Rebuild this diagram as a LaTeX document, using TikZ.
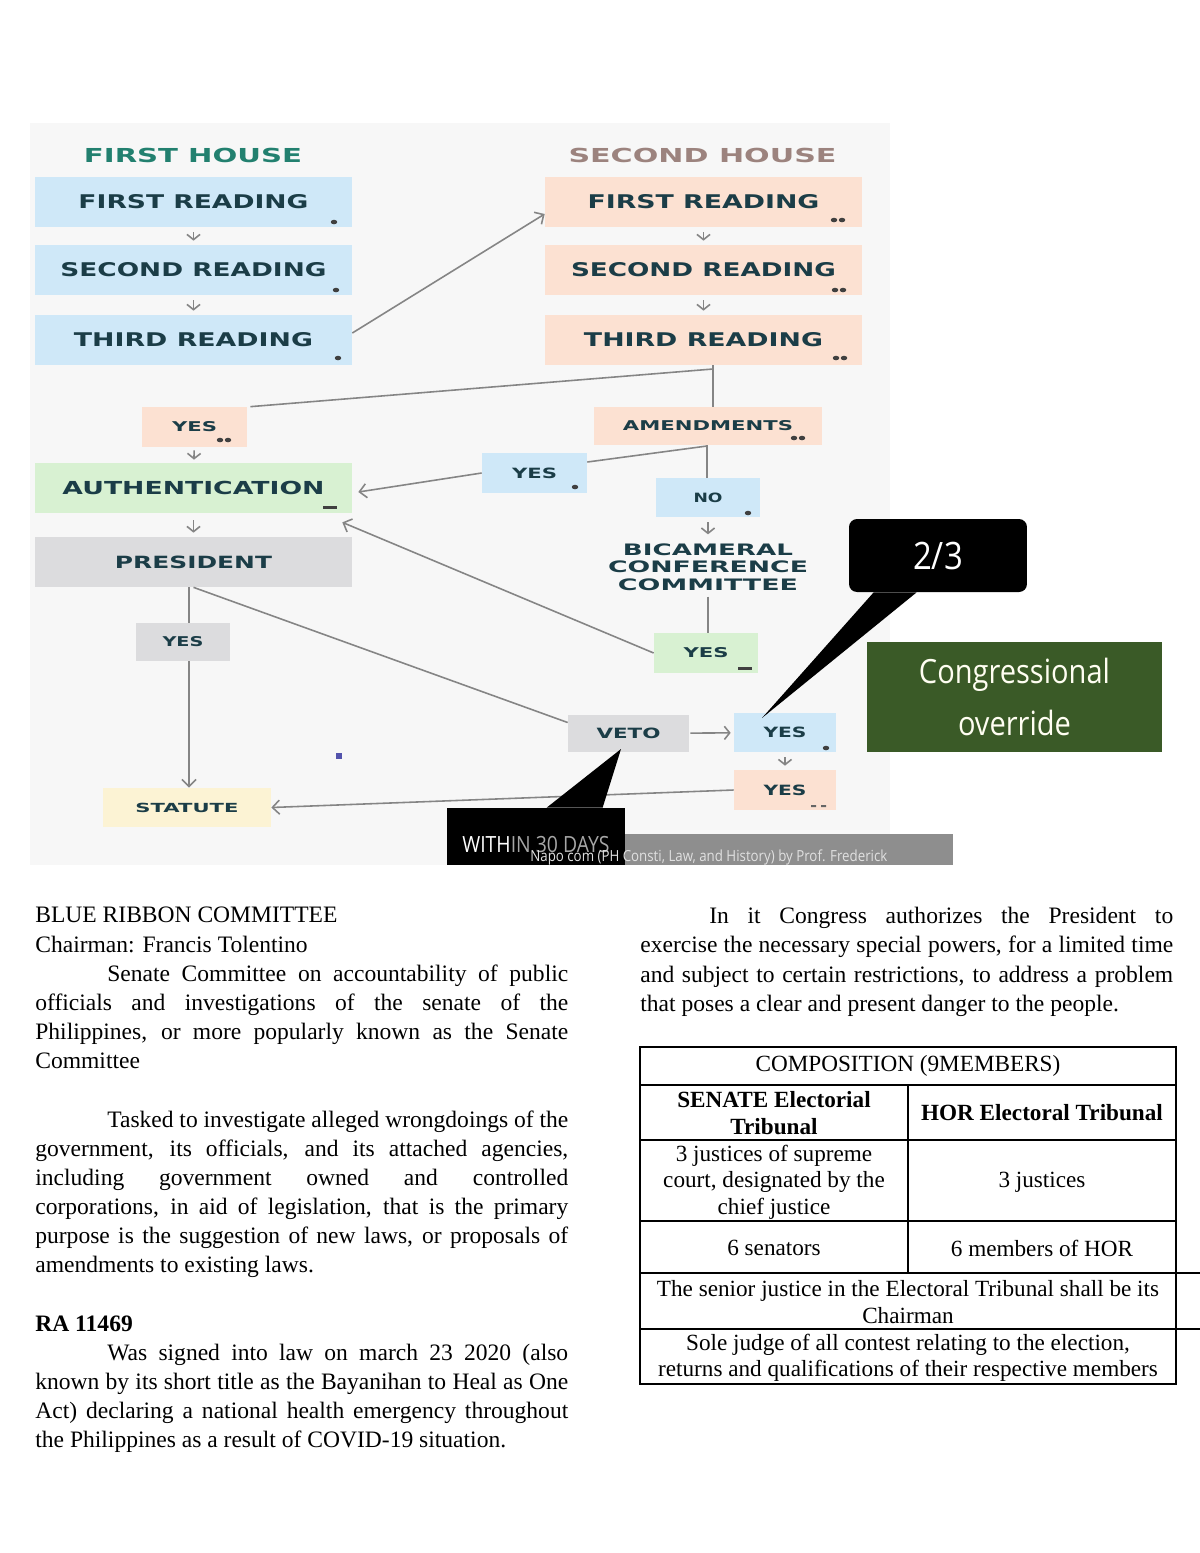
\documentclass[tikz,border=0pt]{standalone}
\usepackage{fontspec}
\setmainfont{Liberation Serif}
\newfontfamily\flowfont{DejaVu Sans}
\newfontfamily\slidefont[FakeStretch=0.87]{Open Sans}
\usepackage{graphicx}
\usepackage{xcolor}
\usetikzlibrary{arrows.meta,calc}

\definecolor{boxblue}{HTML}{CFE8F8}
\definecolor{boxpeach}{HTML}{FCE1D2}
\definecolor{boxgreen}{HTML}{D8F1D2}
\definecolor{boxgray}{HTML}{DCDCDE}
\definecolor{boxyellow}{HTML}{FCF3D4}
\definecolor{inktext}{HTML}{1B3D47}
\definecolor{houseone}{HTML}{22806F}
\definecolor{housetwo}{HTML}{9C837E}
\definecolor{linkgray}{HTML}{858585}
\definecolor{overridegreen}{HTML}{3A5A27}
\definecolor{slidebg}{HTML}{F7F7F7}
\definecolor{barcolor}{HTML}{8E8E8E}

\setlength{\parindent}{0pt}
\newlength\pxu \setlength\pxu{0.02cm}
% label squeezed to a width and a cap height, in pixels
\newcommand{\lbl}[3]{\resizebox{#1\pxu}{#2\pxu}{\flowfont\bfseries #3}}
% the little slide marks
\newcommand{\dotone}[1]{\fill[black!75] #1 ellipse [x radius=0.065cm, y radius=0.045cm];}
\newcommand{\dottwo}[1]{\fill[black!75] #1 ++(-4,0) ellipse [x radius=0.065cm, y radius=0.045cm] ++(8,0) ellipse [x radius=0.065cm, y radius=0.045cm];}
\newcommand{\markbar}[1]{\fill[black!75] #1 ++(-7,-1.5) rectangle ++(14,3);}

\tikzset{
  readbox/.style={inner sep=0, text=inktext, minimum width=6.34cm, minimum height=1cm},
  smallbox/.style={inner sep=0, text=inktext, minimum width=2.1cm, minimum height=0.8cm},
  connector/.style={draw=linkgray, line width=0.9pt},
  linkarrow/.style={connector, -{Straight Barb[length=4pt,width=8pt]}},
  downtick/.style={draw=linkgray, line width=0.9pt, -{Straight Barb[length=3pt,width=7.5pt]},
    shorten <=0.1cm, shorten >=0.08cm},
  bodytext/.style={inner sep=0, anchor=north west, text width=10.66cm, align=justify,
    font=\fontsize{13.4}{16.6}\selectfont},
  cell/.style={inner sep=0, align=center, font=\fontsize{13.2}{15}\selectfont},
}

\begin{document}
\begin{tikzpicture}[x=0.02cm, y=-0.02cm]
  \useasboundingbox (0,0) rectangle (1200,1553);
  \fill[white] (0,0) rectangle (1200,1553);

  % Slide
  \fill[slidebg] (30,123) rectangle (890,865);
  \node[text=houseone] (house1) at (193,155) {\lbl{218}{14.3}{FIRST HOUSE}};
  \node[text=housetwo] (house2) at (702.5,155) {\lbl{268}{14.3}{SECOND HOUSE}};

  % First house
  \node[readbox, fill=boxblue] (fr1) at (193.5,202) {\lbl{230}{14}{FIRST READING}};
  \node[readbox, fill=boxblue] (sr1) at (193.5,270) {\lbl{266}{14}{SECOND READING}};
  \node[readbox, fill=boxblue] (tr1) at (193.5,340) {\lbl{239}{14}{THIRD READING}};

  % Second house
  \node[readbox, fill=boxpeach] (fr2) at (703.5,202) {\lbl{232}{14}{FIRST READING}};
  \node[readbox, fill=boxpeach] (sr2) at (703.5,270) {\lbl{265}{14}{SECOND READING}};
  \node[readbox, fill=boxpeach] (tr2) at (703.5,340) {\lbl{239}{14}{THIRD READING}};

  % Left column
  \node[smallbox, fill=boxpeach] (yesA) at (194.5,427) {\lbl{45}{10}{YES}};
  \node[readbox, fill=boxgreen] (auth) at (193.5,488) {\lbl{262}{13.3}{AUTHENTICATION}};
  \node[readbox, fill=boxgray] (pres) at (193.5,562) {\lbl{157}{12.5}{PRESIDENT}};
  \node[smallbox, fill=boxgray, minimum width=1.88cm, minimum height=0.76cm] (yesD) at (183,642) {\lbl{41}{10}{YES}};
  \node[smallbox, fill=boxyellow, minimum width=3.36cm, minimum height=0.78cm] (statute) at (187,807.5) {\lbl{103}{9.3}{STATUTE}};

  % Middle column
  \node[smallbox, fill=boxpeach, minimum width=4.56cm, minimum height=0.76cm] (amend) at (708,426) {\lbl{170}{10}{AMENDMENTS}};
  \node[smallbox, fill=boxblue] (yesB) at (534.5,473) {\lbl{45}{10.5}{YES}};
  \node[smallbox, fill=boxblue, minimum width=2.08cm, minimum height=0.78cm] (no) at (708,497.5) {\lbl{29}{9.5}{NO}};
  \node[inner sep=0, text=inktext, align=center, font=\fontsize{8}{9.9}\selectfont] (bicam) at (708,567)
    {\lbl{170}{11.7}{BICAMERAL}\\\lbl{200}{11.7}{CONFERENCE}\\\lbl{180}{11.7}{COMMITTEE}};
  \node[smallbox, fill=boxgreen, minimum width=2.08cm] (yesC) at (706,653) {\lbl{45}{10}{YES}};
  \node[smallbox, fill=boxgray, minimum width=2.42cm, minimum height=0.74cm] (veto) at (628.5,733.5) {\lbl{64}{10.5}{VETO}};
  \node[smallbox, fill=boxblue, minimum width=2.04cm, minimum height=0.78cm] (yesE) at (785,732.5) {\lbl{43}{10.5}{YES}};
  \node[smallbox, fill=boxpeach, minimum width=2.04cm] (yesF) at (785,790) {\lbl{43}{10.5}{YES}};

  % Marks
  \dotone{(334,222)} \dotone{(336,290)} \dotone{(338,358)}
  \dottwo{(838,220)} \dottwo{(839,290)} \dottwo{(840,358)}
  \dottwo{(224,440)} \dottwo{(798,438)}
  \dotone{(575,487)} \dotone{(748,513)} \dotone{(826,748)}
  \markbar{(330,507)} \markbar{(745,668)}
  \fill[black!60] (811,805) rectangle (816,807) (821,805) rectangle (826,807);
  \fill[blue!35!gray] (336,753) rectangle (342,759);

  % Small arrows
  \draw[downtick] (fr1) -- (sr1);
  \draw[downtick] (sr1) -- (tr1);
  \draw[downtick] (fr2) -- (sr2);
  \draw[downtick] (sr2) -- (tr2);
  \draw[downtick, shorten <=0.06cm, shorten >=0.06cm] (yesA) -- (auth);
  \draw[downtick, shorten <=0.14cm] (auth) -- (pres);
  \draw[downtick, shorten >=0.18cm] (no) -- (bicam);
  \draw[downtick, shorten <=0.02cm, shorten >=0.06cm] (veto) -- (yesE);
  \draw[downtick] (yesE) -- (yesF);

  % Connectors
  \draw[linkarrow] ([yshift=0.14cm]tr1.east) -- ([yshift=-0.24cm]fr2.west);
  \coordinate (split) at (713,369);
  \draw[connector] (tr2.south -| split) -- (amend.north -| split);
  \draw[connector] (split) -- ([xshift=0.06cm]yesA.north east);
  \coordinate (merge) at (707,446);
  \draw[connector] (amend.south -| merge) -- (no.north -| merge);
  \draw[connector] ([yshift=0.22cm]yesB.east) -- (merge);
  \draw[linkarrow] (yesB.west) -- ([shift={(0.12cm,-0.08cm)}]auth.east);
  \draw[connector, shorten <=0.12cm] (bicam.south) -- (yesC.north -| bicam.south);
  \draw[linkarrow] (yesC.west) -- ([shift={(-0.2cm,-0.18cm)}]auth.south east);
  \coordinate (drop) at (189,587);
  \draw[connector] (drop) -- (drop |- yesD.north);
  \draw[linkarrow] (drop |- yesD.south) -- (drop |- statute.north);
  \draw[connector] (pres.south) -- ([yshift=0.22cm]veto.west);
  \draw[linkarrow] (yesF.west) -- (statute.east);

  % Callouts
  \node[fill=black, rounded corners=0.16cm, minimum width=3.56cm, minimum height=1.46cm,
    text=white, font=\slidefont\fontsize{21.5}{24}\selectfont] (twothirds) at (938,555.5) {2/3};
  \coordinate (tipA) at (762,718);
  \fill[black] ([xshift=0.5cm]twothirds.south west) -- (tipA) -- ([xshift=1.36cm]twothirds.south west) -- cycle;
  \node[fill=overridegreen, minimum width=5.9cm, minimum height=2.2cm, align=center,
    text=white!95!yellow, font=\slidefont\fontsize{19}{29.5}\selectfont] (override) at (1014.5,697)
    {Congressional\\override};

  \node[fill=black, inner sep=0, minimum width=3.56cm, minimum height=1.14cm] (within) at (536,836.5) {};
  \coordinate (tipB) at (621,749);
  \fill[black] ([xshift=2cm]within.north west) -- (tipB) -- ([xshift=3.12cm]within.north west) -- cycle;
  \fill[barcolor] (within.east |- 0,834) rectangle (953,865);
  \node[anchor=base west, inner sep=0, text=white, font=\slidefont\fontsize{12.7}{14}\selectfont]
    (withintext) at (462,852) {WITH\textcolor{black!35}{IN 30 DAYS}};
  \node[anchor=base west, inner sep=0, text=black!12, font=\slidefont\fontsize{8.7}{10}\selectfont]
    (caption) at (530,861) {Napo com (PH Consti, Law, and History) by Prof. Frederick};

  % Left column text
  \node[bodytext] (blueribbon) at (35,907) {%
    BLUE RIBBON COMMITTEE\par
    Chairman: Francis Tolentino\par
    \hspace*{1.44cm}Senate Committee on accountability of public\linebreak
    officials and investigations of the senate of the\linebreak
    Philippines, or more popularly known as the Senate\linebreak
    Committee\par
    \vspace{\baselineskip}
    \hspace*{1.44cm}Tasked to investigate alleged wrongdoings of the\linebreak
    government, its officials, and its attached agencies,\linebreak
    including government owned and controlled\linebreak
    corporations, in aid of legislation, that is the primary\linebreak
    purpose is the suggestion of new laws, or proposals of\linebreak
    amendments to existing laws.\par
    \vspace{\baselineskip}
    \textbf{RA 11469}\par
    \hspace*{1.44cm}Was signed into law on march 23 2020 (also\linebreak
    known by its short title as the Bayanihan to Heal as One\linebreak
    Act) declaring a national health emergency throughout\linebreak
    the Philippines as a result of COVID-19 situation.};

  % Right column text
  \node[bodytext] (powers) at (640,907) {%
    \hspace*{1.38cm}In it Congress authorizes the President to\linebreak
    exercise the necessary special powers, for a limited time\linebreak
    and subject to certain restrictions, to address a problem\linebreak
    that poses a clear and present danger to the people.};

  % Table
  \draw[line width=0.6pt] (640,1047) rectangle (1176,1384);
  \draw[line width=0.6pt] (640,1085) -- (1176,1085) (640,1140) -- (1176,1140) (640,1221) -- (1176,1221);
  \draw[line width=0.6pt] (640,1273) -- (1200,1273) (640,1329) -- (1200,1329);
  \draw[line width=0.6pt] (908,1085) -- (908,1273);
  \node[cell] (comp) at (908,1066) {COMPOSITION (9MEMBERS)};
  \node[cell] (senhead) at (774,1113) {\textbf{SENATE Electorial}\\\textbf{Tribunal}};
  \node[cell] (horhead) at (1042,1113) {\textbf{HOR Electoral Tribunal}};
  \node[cell] (senjust) at (774,1182) {3 justices of supreme\\court, designated by the\\chief justice};
  \node[cell] (horjust) at (1042,1182) {3 justices};
  \node[cell] (senmem) at (774,1248) {6 senators};
  \node[cell] (hormem) at (1042,1248) {6 members of HOR};
  \node[cell] (chair) at (908,1302) {The senior justice in the Electoral Tribunal shall be its\\Chairman};
  \node[cell] (judge) at (908,1358) {Sole judge of all contest relating to the election,\\returns and qualifications of their respective members};
\end{tikzpicture}
\end{document}
